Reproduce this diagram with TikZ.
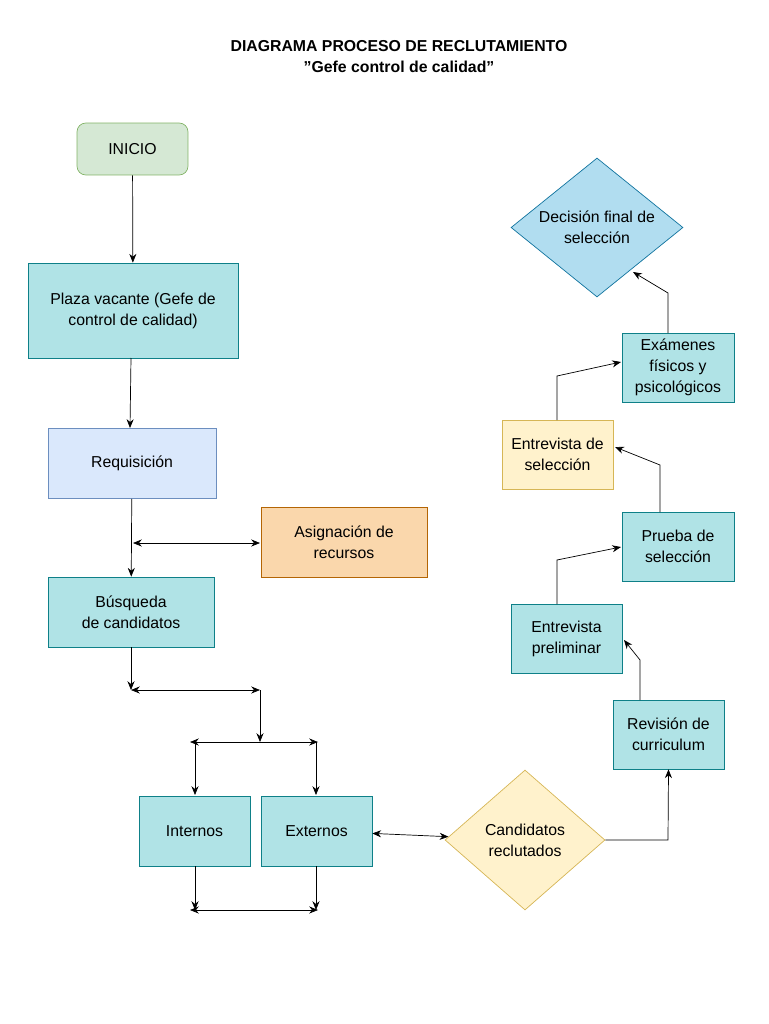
\documentclass[tikz,border=0pt]{standalone}
\usepackage{fontspec}
\setmainfont{Liberation Sans}
\usetikzlibrary{shapes.geometric,arrows.meta}
\definecolor{teal}{HTML}{B0E3E6}\definecolor{tealb}{HTML}{0E8088}
\definecolor{grn}{HTML}{D5E8D4}\definecolor{grnb}{HTML}{82B366}
\definecolor{blu}{HTML}{DAE8FC}\definecolor{blub}{HTML}{6C8EBF}
\definecolor{org}{HTML}{FAD7AC}\definecolor{orgb}{HTML}{B46504}
\definecolor{yel}{HTML}{FFF2CC}\definecolor{yelb}{HTML}{D6B656}
\definecolor{sky}{HTML}{B1DDF0}\definecolor{skyb}{HTML}{10739E}
\begin{document}
\begin{tikzpicture}[x=0.02cm,y=-0.02cm,font=\fontsize{9}{12}\selectfont,
  box/.style={draw=tealb,fill=teal,align=center,inner sep=0pt},
  dia/.style={diamond,aspect=1.15,align=center,inner sep=0pt},
  arr/.style={-{Stealth[length=5pt,width=4pt]}},
  dbl/.style={{Stealth[length=5pt,width=4pt]}-{Stealth[length=5pt,width=4pt]}}]
\useasboundingbox (0,0) rectangle (768,1024);
\node (t) at (399,57) [align=center,font=\fontsize{9}{12}\selectfont\bfseries]
  {DIAGRAMA PROCESO DE RECLUTAMIENTO\\"Gefe control de calidad"};
\node (ini) at (132.5,149) [box,draw=grnb,fill=grn,rounded corners=5pt,minimum width=2.22cm,minimum height=1.04cm] {INICIO};
\node (pla) at (133,310.5) [box,minimum width=4.2cm,minimum height=1.9cm] {Plaza vacante (Gefe de\\control de calidad)};
\node (req) at (132,463.5) [box,draw=blub,fill=blu,minimum width=3.36cm,minimum height=1.4cm] {Requisición};
\node (asi) at (344,542) [box,draw=orgb,fill=org,minimum width=3.32cm,minimum height=1.4cm] {Asignación de\\recursos};
\node (bus) at (131,612) [box,minimum width=3.32cm,minimum height=1.4cm] {Búsqueda\\de candidatos};
\node (int) at (194.5,831) [box,minimum width=2.22cm,minimum height=1.4cm] {Internos};
\node (ext) at (316.5,831) [box,minimum width=2.22cm,minimum height=1.4cm] {Externos};
\node (can) at (525,840) [dia,draw=yelb,fill=yel,minimum width=3.2cm,minimum height=2.8cm] {Candidatos\\reclutados};
\node (rev) at (668.5,734.5) [box,minimum width=2.22cm,minimum height=1.38cm] {Revisión de\\curriculum};
\node (pre) at (566.5,638.5) [box,minimum width=2.22cm,minimum height=1.38cm] {Entrevista\\preliminar};
\node (pru) at (678,546.5) [box,minimum width=2.24cm,minimum height=1.38cm] {Prueba de\\selección};
\node (ens) at (557.5,454.5) [box,draw=yelb,fill=yel,minimum width=2.22cm,minimum height=1.38cm] {Entrevista de\\selección};
\node (exa) at (678,367.5) [box,minimum width=2.24cm,minimum height=1.38cm] {Exámenes\\físicos y\\psicológicos};
\node (dec) at (597,227.5) [dia,draw=skyb,fill=sky,minimum width=3.44cm,minimum height=2.78cm] {Decisión final de\\selección};
% connectors
\draw[arr] (ini) -- (pla);
\draw[arr] (131,358) -- (130,428);
\draw[arr] (req) -- (bus);
\coordinate (a1) at (133,543); \coordinate (a2) at (260,543);
\draw[dbl] (a1) -- (a2);
\coordinate (b0) at (131,690); \coordinate (b1) at (260,690);
\draw[arr] (bus.south -| b0) -- (b0);
\draw[dbl] (b0) -- (b1);
\coordinate (c0) at (190,742); \coordinate (c1) at (318,742);
\draw[arr] (b1) -- (260,742);
\draw[dbl] (c0) -- (c1);
\draw[arr] (195,742) -- (195,795);
\draw[arr] (316,742) -- (316,795);
\coordinate (d0) at (190,910); \coordinate (d1) at (318,910);
\draw[arr] (195,866) -- (195,910);
\draw[arr] (316,866) -- (316,910);
\draw[dbl] (d0) -- (d1);
\draw[dbl] (ext) -- (can);
\draw[arr] (can.east) -- (668,840) -- (rev.south);
\draw[arr] (640,700) -- (640,660) -- (624,640);
\draw[arr] (557,604) -- (557,560) -- (621,547);
\draw[arr] (660,512) -- (660,465) -- (615,447);
\draw[arr] (557,420) -- (557,376) -- (621,362);
\draw[arr] (668,333) -- (668,293) -- (633,272);
\end{tikzpicture}
\end{document}
